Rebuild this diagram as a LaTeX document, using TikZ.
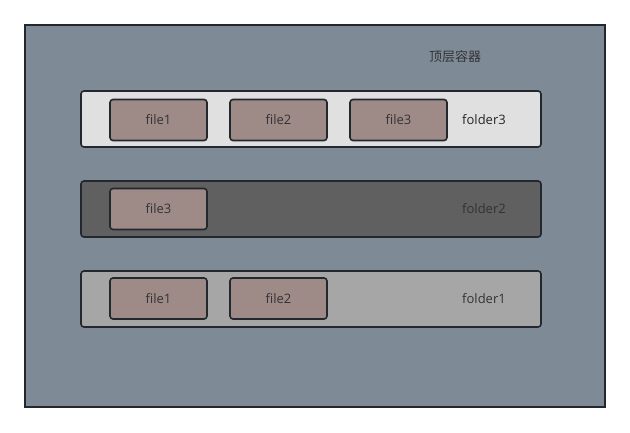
\documentclass[tikz,border=0pt]{standalone}
\usepackage{fontspec}
\setmainfont{Open Sans}
\newfontfamily\cjk{Noto Sans CJK SC}
\definecolor{topfill}{HTML}{7F8A97}
\definecolor{edge}{HTML}{22282E}
\definecolor{filefill}{HTML}{9E8B87}
\definecolor{lightfill}{HTML}{E0E0E0}
\definecolor{darkfill}{HTML}{606060}
\definecolor{midfill}{HTML}{A6A6A6}
\definecolor{txt}{HTML}{333333}
\tikzset{
  folderbox/.style={draw=edge, line width=1.6pt, rounded corners=3pt, minimum width=460pt, minimum height=56pt, inner sep=0pt},
  filebox/.style={draw=edge, line width=1.6pt, fill=filefill, rounded corners=3pt, minimum width=97pt, minimum height=41pt, inner sep=0pt, text=txt, font=\fontsize{13}{15}\selectfont},
  label/.style={text=txt, font=\fontsize{13}{15}\selectfont, inner sep=0pt}
}
\begin{document}
\begin{tikzpicture}[x=1pt,y=-1pt]
        \useasboundingbox (0,0) rectangle (630,432);
        \node at (315,216) [draw=edge, line width=1.6pt, fill=topfill, minimum width=580pt, minimum height=382pt, inner sep=0pt] (top) {};
        \node at (455,57) [label] (toplabel) {\cjk 顶层容器};
        % folder3
        \node at (311,119) [folderbox, fill=lightfill] (f3) {};
        \node at (158.5,120) [filebox] (f3a) {file1};
        \node at (278.5,120) [filebox] (f3b) {file2};
        \node at (398.5,120) [filebox] (f3c) {file3};
        \node at (484,120) [label, text=black!85] (f3name) {folder3};
        % folder2
        \node at (311,209) [folderbox, fill=darkfill] (f2) {};
        \node at (158.5,209) [filebox] (f2a) {file3};
        \node at (484,209) [label] (f2name) {folder2};
        % folder1
        \node at (311,299) [folderbox, fill=midfill] (f1) {};
        \node at (158.5,298.5) [filebox] (f1a) {file1};
        \node at (278.5,298.5) [filebox] (f1b) {file2};
        \node at (484,299) [label] (f1name) {folder1};
      \end{tikzpicture}
\end{document}
